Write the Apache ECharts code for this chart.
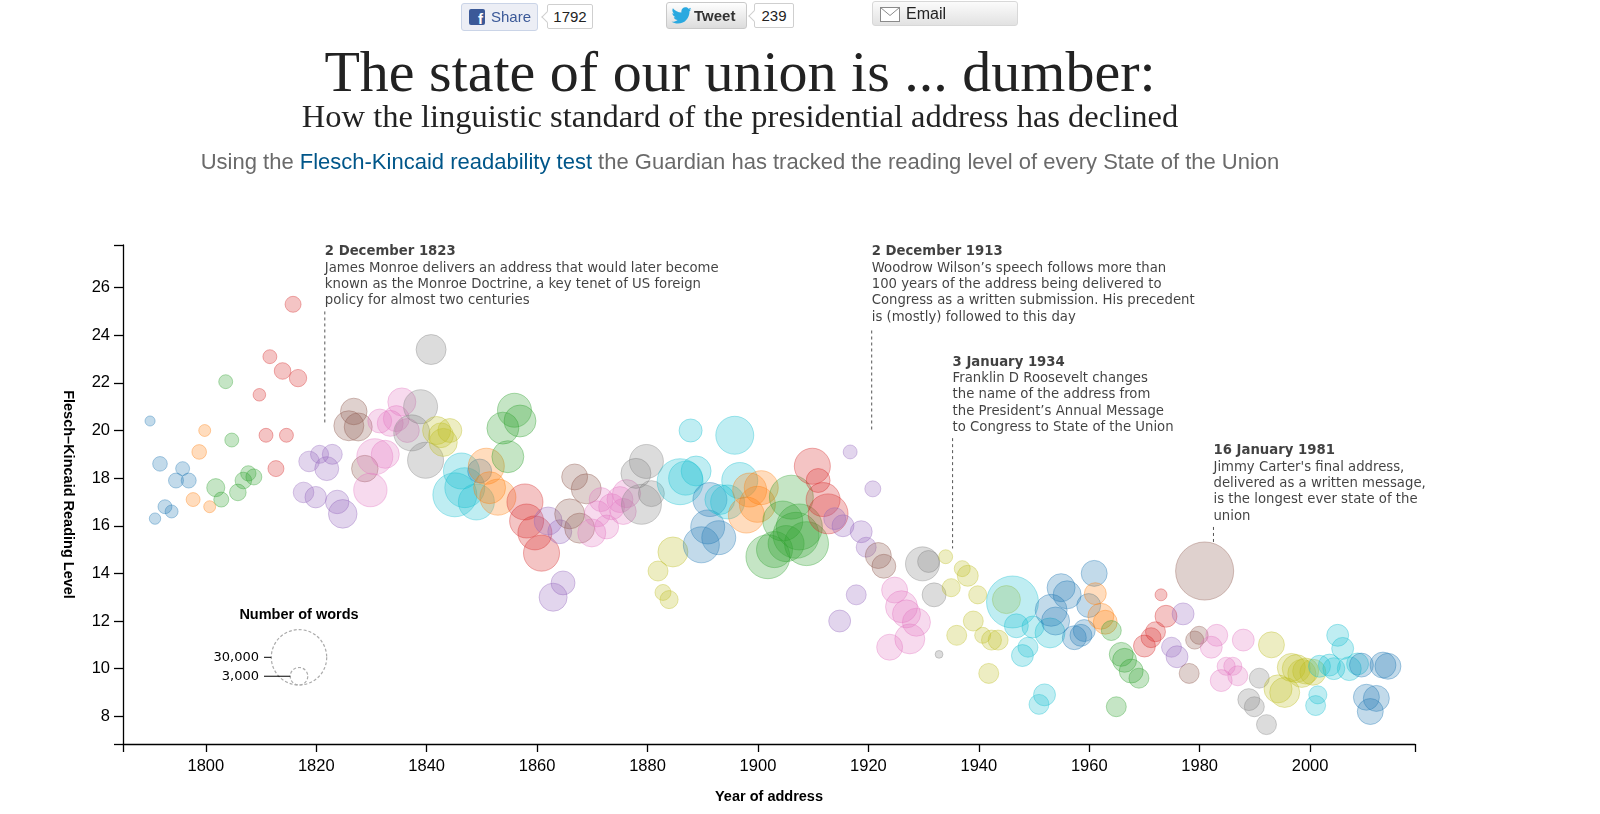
<!DOCTYPE html>
<html>
<head>
<meta charset="utf-8">
<title>The state of our union is ... dumber</title>
<script src="https://cdn.jsdelivr.net/npm/echarts@6.0.0/dist/echarts.min.js"></script>
<style>
  html, body { margin: 0; padding: 0; background: #fff; }
  #page { position: relative; width: 1600px; height: 814px; overflow: hidden; }
  #chart { position: absolute; left: 0; top: 0; width: 1600px; height: 814px; }
  .hdr { position: absolute; left: 0; width: 1480px; text-align: center; white-space: nowrap; }
  #title { top: 43px; font: 58px/58px "Liberation Serif", serif; color: #222; }
  #subtitle { top: 100px; font: 32.5px/32.5px "Liberation Serif", serif; color: #222; }
  #standfirst { top: 151px; font: 22px/22px "Liberation Sans", Arial, sans-serif; color: #6a6a6a; }
  #standfirst a { color: #005689; text-decoration: none; }
  .btn { position: absolute; box-sizing: border-box; border-radius: 3px; font-family: "Liberation Sans", Arial, sans-serif; }
  .fb { left: 461px; top: 3px; width: 77px; height: 28px; background: #eceef5; border: 1px solid #cad4e7; }
  .fb .ico { position: absolute; left: 7px; top: 5px; width: 16px; height: 16px; background: #3b5998; border-radius: 2px;
             color: #fff; font: bold 15px/19px "Liberation Sans", Arial, sans-serif; text-align: right; padding-right: 2px; box-sizing: border-box; overflow: hidden; }
  .fb .lbl { position: absolute; left: 29px; top: 0; line-height: 26px; font-size: 15px; color: #3b5998; }
  .cnt { position: absolute; box-sizing: border-box; height: 25px; background: #fff; border: 1px solid #cfcfcf; border-radius: 2px;
         font: 15px/23px "Liberation Sans", Arial, sans-serif; color: #222; text-align: center; }
  .cnt:before { content: ""; position: absolute; left: -5px; top: 8px; width: 7px; height: 7px; background: #fff;
                border-left: 1px solid #cfcfcf; border-bottom: 1px solid #cfcfcf; transform: rotate(45deg); }
  .tw { left: 666px; top: 2px; width: 81px; height: 27px; border: 1px solid #c9c9c9; background: linear-gradient(#fefefe, #dcdcdc); }
  .tw svg { position: absolute; left: 4px; top: 4px; }
  .tw .lbl { position: absolute; left: 27px; top: 0; line-height: 25px; font-size: 15px; font-weight: bold; color: #333; }
  .em { left: 872px; top: 1px; width: 146px; height: 25px; border: 1px solid #d8d8d8; background: linear-gradient(#fbfbfb, #e2e2e2); }
  .em svg { position: absolute; left: 7px; top: 5px; }
  .em .lbl { position: absolute; left: 33px; top: 0; line-height: 23px; font-size: 16px; color: #222; }
</style>
</head>
<body>
<div id="page">
  <div id="chart"></div>

  <div class="btn fb"><span class="ico">f</span><span class="lbl">Share</span></div>
  <div class="cnt" style="left:547px;top:4px;width:46px;">1792</div>
  <div class="btn tw">
    <svg width="21" height="18" viewBox="0 0 24 20"><path fill="#2aa9e0" d="M23.6 2.4c-.8.4-1.7.6-2.7.7 1-.6 1.7-1.5 2-2.6-.9.5-1.9.9-3 1.1C19.1.7 17.9.1 16.5.1c-2.6 0-4.7 2.1-4.7 4.7 0 .4 0 .7.1 1.1C8 5.7 4.5 3.8 2.2 1 1.8 1.7 1.6 2.5 1.6 3.3c0 1.6.8 3 2.1 3.9-.8 0-1.5-.2-2.1-.6v.1c0 2.3 1.6 4.1 3.7 4.6-.4.1-.8.2-1.2.2-.3 0-.6 0-.9-.1.6 1.9 2.3 3.2 4.4 3.2-1.6 1.3-3.6 2-5.800 2-.4 0-.7 0-1.1-.1 2.1 1.300 4.500 2.100 7.100 2.100 8.600 0 13.300-7.100 13.300-13.300v-.6c.9-.6 1.700-1.400 2.300-2.300z"/></svg>
    <span class="lbl">Tweet</span>
  </div>
  <div class="cnt" style="left:754px;top:3px;width:40px;">239</div>
  <div class="btn em">
    <svg width="20" height="15" viewBox="0 0 20 15"><rect x="0.5" y="0.5" width="19" height="14" fill="#fff" stroke="#8a8a8a"/><path d="M0.5 0.5 L10 8.5 L19.5 0.5" fill="none" stroke="#8a8a8a"/></svg>
    <span class="lbl">Email</span>
  </div>

  <div class="hdr" id="title">The state of our union is ... dumber:</div>
  <div class="hdr" id="subtitle">How the linguistic standard of the presidential address has declined</div>
  <div class="hdr" id="standfirst">Using the <a href="#">Flesch-Kincaid readability test</a> the Guardian has tracked the reading level of every State of the Union</div>
</div>

<script>
// presidents in order, and how many addresses each gave (Cleveland twice, same colour)
var presidents = ['George Washington', 'John Adams', 'Thomas Jefferson', 'James Madison', 'James Monroe',
    'John Quincy Adams', 'Andrew Jackson', 'Martin Van Buren', 'John Tyler', 'James K Polk',
    'Zachary Taylor', 'Millard Fillmore', 'Franklin Pierce', 'James Buchanan', 'Abraham Lincoln',
    'Andrew Johnson', 'Ulysses S Grant', 'Rutherford B Hayes', 'Chester A Arthur', 'Grover Cleveland',
    'Benjamin Harrison', 'Grover Cleveland', 'William McKinley', 'Theodore Roosevelt', 'William H Taft',
    'Woodrow Wilson', 'Warren G Harding', 'Calvin Coolidge', 'Herbert Hoover', 'Franklin D Roosevelt',
    'Harry S Truman', 'Dwight D Eisenhower', 'John F Kennedy', 'Lyndon B Johnson', 'Richard Nixon',
    'Gerald R Ford', 'Jimmy Carter', 'Ronald Reagan', 'George H W Bush', 'Bill Clinton',
    'George W Bush', 'Barack Obama'];
var addressCounts = [8, 4, 8, 8, 8, 4, 8, 4, 4, 4, 1, 3, 4, 4, 4, 4, 8, 4, 4, 4, 4, 4, 4, 8, 4,
    8, 2, 6, 4, 12, 8, 9, 3, 6, 5, 3, 4, 7, 4, 8, 9, 6];

// date of each address (decimal year)
var years = [
    1789.9, 1790.8, 1791.7, 1792.6, 1793.8, 1794.6, 1795.8, 1796.9,      // Washington
    1797.7, 1798.8, 1799.8, 1800.7,                                      // J Adams
    1801.8, 1802.8, 1803.6, 1804.7, 1805.8, 1806.8, 1807.7, 1808.7,      // Jefferson
    1809.7, 1810.9, 1811.6, 1812.7, 1813.9, 1814.6, 1815.8, 1816.7,      // Madison
    1817.7, 1818.7, 1819.9, 1820.6, 1821.9, 1822.9, 1823.8, 1824.8,      // Monroe
    1825.9, 1826.8, 1827.6, 1828.8,                                      // JQ Adams
    1829.8, 1830.6, 1831.5, 1832.5, 1833.4, 1834.5, 1835.5, 1836.5,      // Jackson
    1837.3, 1838.9, 1839.8, 1840.8,                                      // Van Buren
    1841.8, 1842.6, 1843.0, 1844.2,                                      // Tyler
    1845.1, 1846.3, 1846.9, 1849.0,                                      // Polk
    1849.6,                                                              // Taylor
    1850.8, 1851.4, 1852.9,                                              // Fillmore
    1853.8, 1854.7, 1855.9, 1856.9,                                      // Pierce
    1857.8, 1858.1, 1859.6, 1860.8,                                      // Buchanan
    1862.0, 1862.9, 1864.1, 1864.7,                                      // Lincoln
    1865.9, 1866.8, 1867.7, 1868.9,                                      // A Johnson
    1869.9, 1870.9, 1871.6, 1872.6, 1873.5, 1875.0, 1875.6, 1876.2,      // Grant
    1877.9, 1878.9, 1879.8, 1880.7,                                      // Hayes
    1881.9, 1882.8, 1883.9, 1884.6,                                      // Arthur
    1885.9, 1886.9, 1887.8, 1888.8,                                      // Cleveland
    1889.75, 1890.9, 1891.3, 1892.9,                                     // Harrison
    1893.1, 1894.5, 1895.8, 1896.7,                                      // Cleveland
    1897.9, 1898.5, 1899.9, 1900.6,                                      // McKinley
    1901.8, 1903.0, 1904.5, 1905.1, 1906.05, 1906.9, 1907.5, 1908.8,     // T Roosevelt
    1909.85, 1910.9, 1911.8, 1912.7,                                     // Taft
    1913.9, 1914.8, 1915.4, 1916.7, 1917.8, 1918.7, 1919.6, 1920.8,      // Wilson
    1921.8, 1922.8,                                                      // Harding
    1923.85, 1924.75, 1926.0, 1926.9, 1927.5, 1928.7,                    // Coolidge
    1929.8, 1930.9, 1931.9, 1932.8,                                      // Hoover
    1934.0, 1935.0, 1936.0, 1937.0, 1938.0, 1939.0, 1939.8, 1940.7,
    1941.8, 1942.3, 1943.5, 1945.0,                                      // FD Roosevelt
    1946.1, 1946.8, 1947.9, 1948.9, 1949.8, 1950.9, 1951.9, 1952.9,      // Truman
    1953.1, 1953.9, 1954.9, 1956.0, 1957.3, 1958.5, 1959.1, 1959.9, 1960.9, // Eisenhower
    1961.1, 1962.1, 1962.9,                                              // Kennedy
    1964.0, 1964.9, 1965.8, 1966.4, 1967.6, 1969.0,                      // LB Johnson
    1970.0, 1971.2, 1972.0, 1973.0, 1973.9,                              // Nixon
    1974.9, 1975.9, 1977.0,                                              // Ford
    1978.1, 1979.1, 1979.9, 1980.9,                                      // Carter
    1982.1, 1983.1, 1983.9, 1984.8, 1986.0, 1986.9, 1987.9,              // Reagan
    1988.9, 1989.9, 1990.8, 1992.1,                                      // GHW Bush
    1993.0, 1994.2, 1995.4, 1996.6, 1997.5, 1998.5, 1999.2, 2000.5,      // Clinton
    2001.0, 2001.4, 2001.7, 2003.5, 2004.3, 2005.0, 2005.9, 2007.1, 2008.6, // GW Bush
    2009.3, 2010.2, 2010.9, 2012.0, 2013.2, 2014.1                       // Obama
];

// Flesch-Kincaid grade level of each address
var grades = [
    20.4, 16.3, 18.6, 16.8, 16.6, 17.9, 18.4, 17.9,
    17.1, 19.1, 20.0, 16.8,
    17.6, 17.1, 22.05, 19.6, 17.4, 17.9, 18.2, 18.05,
    21.5, 19.8, 23.1, 18.4, 22.5, 19.8, 25.3, 22.2,
    17.4, 18.7, 17.2, 19.0, 18.4, 19.0, 17.0, 16.5,
    20.2, 20.8, 20.15, 18.4,
    17.5, 18.9, 20.4, 19.0, 20.3, 20.5, 21.2, 20.0,
    19.9, 21.0, 18.75, 23.4,
    20.0, 19.8, 19.5, 20.0,
    17.3, 18.3, 17.6, 17.0,
    18.3,
    18.5, 17.6, 17.2,
    20.1, 18.9, 20.85, 20.4,
    17.0, 16.2, 15.7, 14.85,
    16.2, 13.0, 15.75, 13.6,
    16.5, 18.05, 15.9, 17.55,
    15.7, 16.5, 17.1, 15.95, 16.8, 17.1, 16.6, 17.35,
    18.2, 16.9, 18.7, 17.35,
    14.1, 13.2, 12.9, 14.9,
    17.85, 18.0, 20.0, 18.3,
    15.2, 15.95, 17.1, 15.5,
    17.1, 17.0, 19.8, 17.9,
    16.45, 17.5, 16.9, 17.6,
    14.7, 15.0, 16.2, 15.25, 17.2, 15.6, 15.95, 15.25,
    18.5, 17.9, 17.1, 16.5,
    16.3, 12.0, 16.0, 19.1, 13.1, 15.75, 15.1, 17.55,
    14.75, 14.3,
    10.9, 13.3, 12.6, 12.3, 11.25, 11.95,
    14.4, 14.5, 13.1, 10.6,
    14.7, 13.4, 11.4, 14.2, 13.9, 12.0, 13.1, 11.4, 9.8, 11.2, 11.2, 12.9,
    12.8, 11.8, 10.55, 10.9, 11.75, 8.5, 8.9, 11.5,
    12.45, 12.0, 13.4, 13.1, 11.3, 11.4, 11.6, 12.65, 14.0,
    13.15, 12.2, 11.95,
    11.6, 8.4, 10.6, 10.35, 9.9, 9.6,
    10.95, 11.3, 11.55, 13.1, 12.2,
    10.9, 10.5, 12.3,
    9.8, 11.2, 11.4, 14.1,
    10.9, 11.4, 9.5, 10.1, 10.1, 9.7, 11.2,
    8.7, 8.4, 9.6, 7.65,
    11.0, 9.15, 9.0, 10.05, 10.0, 9.8, 9.9, 9.85,
    8.45, 8.9, 10.1, 10.15, 10.0, 11.4, 10.85, 10.0, 10.2,
    10.15, 8.8, 8.2, 8.75, 10.15, 10.1
];

// number of words in each address
var words = [
    1000, 1270, 2100, 1900, 1650, 2200, 1900, 2200,
    1900, 2100, 1400, 1400,
    3200, 2200, 1900, 1900, 2700, 2700, 2300, 2500,
    1550, 1900, 1900, 2500, 2700, 1900, 2500, 2950,
    4150, 4150, 4500, 3200, 5600, 3900, 5400, 8000,
    8800, 6900, 7700, 6900,
    10900, 12700, 5600, 7700, 6600, 6600, 7700, 5600,
    12700, 11300, 12700, 8800,
    7700, 6000, 7700, 5600,
    18900, 12700, 15600, 12700,
    5600,
    12700, 10000, 12700,
    10000, 10000, 11300, 10000,
    12700, 11300, 11300, 12700,
    7700, 7700, 5600, 5600,
    8800, 6600, 8800, 8800,
    7700, 6600, 5600, 5600, 6600, 6600, 6600, 7700,
    8800, 15600, 11300, 6600,
    3900, 2500, 3200, 8800,
    20700, 11300, 5200, 8800,
    12700, 11300, 11300, 11300,
    8800, 11300, 14100, 12700,
    12700, 11300, 12700, 11300,
    18900, 12700, 15600, 12700, 18900, 20700, 20700, 18900,
    12700, 5600, 11300, 15600,
    4700, 4700, 4700, 1900, 3900, 4700, 3900, 2500,
    6600, 5600,
    6600, 6600, 10000, 7700, 8800, 7700,
    11300, 4700, 5600, 600,
    1900, 3200, 3900, 2500, 4300, 3900, 3200, 2500, 3900, 3900, 3900, 7700,
    26400, 5600, 4700, 3900, 4700, 3900, 4700, 8800,
    10000, 7700, 7700, 7700, 5600, 4700, 4700, 5600, 6600,
    4700, 6600, 5600,
    3900, 3900, 5600, 5600, 5600, 3900,
    4700, 3900, 3900, 1400, 4700,
    3900, 4700, 4700,
    3900, 3200, 3200, 33000,
    4700, 4700, 4700, 3200, 3200, 3900, 4700,
    4700, 3900, 3900, 3900,
    6600, 7700, 8800, 7700, 7700, 7700, 6600, 6600,
    3900, 3200, 4700, 4700, 4700, 4700, 4700, 5600, 4700,
    5600, 6600, 6600, 6600, 6600, 6600
];

var yearTicks = [1800, 1820, 1840, 1860, 1880, 1900, 1920, 1940, 1960, 1980, 2000];
var gradeTicks = [8, 10, 12, 14, 16, 18, 20, 22, 24, 26];
var legendWords = [30000, 3000];

// annotations: anchor (year, grade) of the text block, and the dashed pointer (year, from, to)
var notes = [
    { year: 1821.55, grade: 27.84, line: [25.0, 20.3], title: '2 December 1823',
      text: ['James Monroe delivers an address that would later become',
             'known as the Monroe Doctrine, a key tenet of US foreign',
             'policy for almost two centuries'] },
    { year: 1920.6, grade: 27.84, line: [24.2, 20.0], title: '2 December 1913',
      text: ['Woodrow Wilson\u2019s speech follows more than',
             '100 years of the address being delivered to',
             'Congress as a written submission. His precedent',
             'is (mostly) followed to this day'] },
    { year: 1935.25, grade: 23.21, line: [19.68, 15.05], title: '3 January 1934',
      text: ['Franklin D Roosevelt changes',
             'the name of the address from',
             'the President\u2019s Annual Message',
             'to Congress to State of the Union'] },
    { year: 1982.5, grade: 19.48, line: [15.95, 15.3], title: '16 January 1981',
      text: ['Jimmy Carter\'s final address,',
             'delivered as a written message,',
             'is the longest ever state of the',
             'union'] }
];

var palette = ['#1f77b4', '#ff7f0e', '#2ca02c', '#d62728', '#9467bd',
               '#8c564b', '#e377c2', '#7f7f7f', '#bcbd22', '#17becf'];

function radius(w) {
    return 27.7 * Math.sqrt(w / 30000);
}
function rgba(hex, a) {
    var n = parseInt(hex.slice(1), 16);
    return 'rgba(' + (n >> 16) + ',' + ((n >> 8) & 255) + ',' + (n & 255) + ',' + a + ')';
}

// colour per distinct president, in order of appearance
var uniqueNames = [];
presidents.forEach(function (p) { if (uniqueNames.indexOf(p) < 0) uniqueNames.push(p); });

var bubbles = [];
var k = 0;
presidents.forEach(function (p, pi) {
    var c = palette[uniqueNames.indexOf(p) % 10];
    for (var j = 0; j < addressCounts[pi]; j++, k++) {
        bubbles.push({
            name: p,
            value: [years[k], grades[k], words[k]],
            itemStyle: { color: rgba(c, 0.34), borderColor: rgba(c, 0.45), borderWidth: 1 }
        });
    }
});

var sans = '"Liberation Sans", Arial, sans-serif';
var verd = '"DejaVu Sans", Verdana, sans-serif';

var series = [{
    type: 'scatter',
    data: bubbles,
    symbolSize: function (v) { return 2 * radius(v[2]); },
    clip: false,
    silent: true,
    emphasis: { disabled: true },
    z: 3
}];

notes.forEach(function (n) {
    series.push({
        type: 'line',
        data: [[n.year, n.line[0]], [n.year, n.line[1]]],
        symbol: 'none',
        silent: true,
        lineStyle: { color: '#555', width: 1, type: [3, 3] },
        z: 2
    });
});

series.push({
    type: 'scatter',
    data: notes.map(function (n) { return [n.year, n.grade]; }),
    symbolSize: 0,
    clip: false,
    silent: true,
    itemStyle: { color: 'rgba(0,0,0,0)' },
    label: {
        show: true,
        position: [0, 0],
        align: 'left',
        verticalAlign: 'top',
        formatter: function (p) {
            var n = notes[p.dataIndex];
            return '{h|' + n.title + '}\n' + n.text.map(function (t) { return '{t|' + t + '}'; }).join('\n');
        },
        rich: {
            h: { fontFamily: verd, fontWeight: 'bold', fontSize: 13.25, lineHeight: 16.3, color: '#111' },
            t: { fontFamily: verd, fontSize: 13.25, lineHeight: 16.3, color: '#111' }
        }
    },
    z: 4
});

// size key, bottom left
var keyX = 299, keyBottom = 685;
var graphic = [{
    type: 'text', x: keyX, y: 615,
    style: { text: 'Number of words', font: 'bold 14.5px ' + sans, fill: '#000',
             align: 'center', verticalAlign: 'middle', textAlign: 'center', textVerticalAlign: 'middle' }
}];
legendWords.forEach(function (w) {
    var r = radius(w), cy = keyBottom - r;
    graphic.push({
        type: 'circle', shape: { cx: keyX, cy: cy, r: r },
        style: { fill: 'none', stroke: '#aaa', lineWidth: 1.2, lineDash: [3, 2] }
    });
    graphic.push({
        type: 'line', shape: { x1: 264, y1: cy, x2: keyX - r, y2: cy },
        style: { stroke: '#000', lineWidth: 1 }
    });
    graphic.push({
        type: 'text', x: 259, y: cy,
        style: { text: w.toLocaleString('en-US'), font: '13px ' + verd, fill: '#000',
                 align: 'right', verticalAlign: 'middle', textAlign: 'right', textVerticalAlign: 'middle' }
    });
});

var chart = echarts.init(document.getElementById('chart'));
chart.setOption({
    animation: false,
    grid: { left: 123, right: 185, top: 245, bottom: 70 },
    xAxis: {
        type: 'value', min: 1785, max: 2019,
        name: 'Year of address', nameLocation: 'middle', nameGap: 45,
        nameTextStyle: { fontFamily: sans, fontWeight: 'bold', fontSize: 14.5, color: '#000' },
        axisLine: { show: true, onZero: false, lineStyle: { color: '#000', width: 1.3 } },
        axisTick: { show: true, length: 8, customValues: [1785].concat(yearTicks, [2019]),
                    lineStyle: { color: '#000', width: 1.3 } },
        axisLabel: { customValues: yearTicks, margin: 14, fontFamily: sans, fontSize: 16.5, color: '#000',
                     formatter: function (v) { return String(v); } },
        splitLine: { show: false }
    },
    yAxis: {
        type: 'value', min: 6.836, max: 27.79,
        name: 'Flesch\u2013Kincaid Reading Level', nameLocation: 'middle', nameGap: 48, nameRotate: -90,
        nameTextStyle: { fontFamily: sans, fontWeight: 'bold', fontSize: 14.5, color: '#000' },
        axisLine: { show: true, onZero: false, lineStyle: { color: '#000', width: 1.3 } },
        axisTick: { show: true, length: 9, customValues: [6.836].concat(gradeTicks, [27.79]),
                    lineStyle: { color: '#000', width: 1.3 } },
        axisLabel: { customValues: gradeTicks, margin: 13, fontFamily: sans, fontSize: 16.5, color: '#000',
                     formatter: function (v) { return String(v); } },
        splitLine: { show: false }
    },
    graphic: graphic,
    series: series
});
</script>
</body>
</html>
